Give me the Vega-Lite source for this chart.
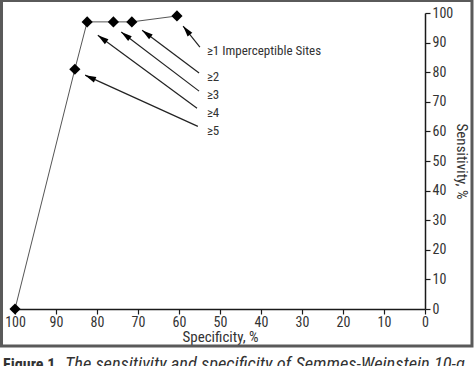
{
  "$schema": "https://vega.github.io/schema/vega-lite/v6.json",
  "width": 410,
  "height": 296,
  "autosize": "none",
  "padding": {"left": 15, "top": 13, "right": 49, "bottom": 57},
  "background": "white",
  "config": {
    "view": {"stroke": null},
    "font": "'Roboto Condensed', 'DejaVu Sans Condensed', 'Liberation Sans', sans-serif",
    "axis": {
      "grid": false,
      "tickCount": 11,
      "domainColor": "#1a1a1a",
      "domainWidth": 1.5,
      "tickColor": "#1a1a1a",
      "tickWidth": 1.2,
      "tickSize": 5,
      "labelColor": "#333333",
      "labelFontSize": 14,
      "labelFlush": false,
      "labelOverlap": false,
      "labelFont": "'Roboto Condensed', 'DejaVu Sans Condensed', 'Liberation Sans', sans-serif",
      "titleFont": "'Roboto Condensed', 'DejaVu Sans Condensed', 'Liberation Sans', sans-serif",
      "titleColor": "#333333",
      "titleFontSize": 15,
      "titleFontWeight": "normal"
    }
  },
  "datasets": {
    "roc": [
      {"specificity": 100, "sensitivity": 0},
      {"specificity": 85.4, "sensitivity": 81},
      {"specificity": 82.4, "sensitivity": 97},
      {"specificity": 76, "sensitivity": 97},
      {"specificity": 71.5, "sensitivity": 97},
      {"specificity": 60.5, "sensitivity": 99}
    ],
    "arrows": [
      {"label": "≥1 Imperceptible Sites", "tailX": 54.9, "tailY": 88.5, "headX": 59.0, "headY": 95.6, "labelX": 53.2, "labelY": 87.1},
      {"label": "≥2", "tailX": 55.1, "tailY": 79.7, "headX": 69.0, "headY": 94.2, "labelX": 53.2, "labelY": 78.3},
      {"label": "≥3", "tailX": 55.1, "tailY": 73.6, "headX": 74.1, "headY": 93.6, "labelX": 53.2, "labelY": 72.2},
      {"label": "≥4", "tailX": 55.6, "tailY": 67.8, "headX": 79.8, "headY": 92.5, "labelX": 53.2, "labelY": 66.1},
      {"label": "≥5", "tailX": 55.4, "tailY": 61.7, "headX": 82.9, "headY": 79.0, "labelX": 53.2, "labelY": 60.0}
    ],
    "one": [{}]
  },
  "layer": [
    {
      "data": {"name": "roc"},
      "mark": {"type": "line", "color": "#555555", "strokeWidth": 1, "clip": false},
      "encoding": {
        "x": {
          "field": "specificity", "type": "quantitative",
          "scale": {"domain": [0, 100], "reverse": true, "nice": false, "zero": false},
          "axis": {"orient": "bottom", "values": [0,10,20,30,40,50,60,70,80,90,100], "labelOverlap": false, "labelFlush": false, "title": "Specificity, %", "labelPadding": 1, "titlePadding": 0}
        },
        "y": {
          "field": "sensitivity", "type": "quantitative",
          "scale": {"domain": [0, 100], "nice": false, "zero": false},
          "axis": {"orient": "right", "values": [0,10,20,30,40,50,60,70,80,90,100], "labelOverlap": false, "labelFlush": false, "title": "Sensitivity, %", "labelPadding": 2, "titlePadding": 1}
        }
      }
    },
    {
      "data": {"name": "one"},
      "mark": {"type": "rect", "filled": false, "stroke": "#5a5a5a", "strokeWidth": 3, "clip": false},
      "encoding": {
        "x": {"datum": 103.29, "type": "quantitative"},
        "x2": {"datum": -11.46},
        "y": {"datum": 104.24, "type": "quantitative"},
        "y2": {"datum": -12.54}
      }
    },
    {
      "data": {"name": "roc"},
      "mark": {"type": "point", "shape": "diamond", "filled": true, "color": "black", "size": 125, "opacity": 1, "clip": false},
      "encoding": {
        "x": {"field": "specificity", "type": "quantitative"},
        "y": {"field": "sensitivity", "type": "quantitative"}
      }
    },
    {
      "data": {"name": "arrows"},
      "mark": {"type": "rule", "color": "#222222", "strokeWidth": 1.2},
      "encoding": {
        "x": {"field": "tailX", "type": "quantitative"},
        "y": {"field": "tailY", "type": "quantitative"},
        "x2": {"field": "headX"},
        "y2": {"field": "headY"}
      }
    },
    {
      "data": {"name": "arrows"},
      "transform": [
        {"calculate": "atan2((datum.tailX - datum.headX) * 4.1, (datum.headY - datum.tailY) * 2.96) * 180 / PI", "as": "ang"}
      ],
      "mark": {"type": "point", "shape": "M0,0L-0.6,2.2L0.6,2.2Z", "filled": true, "color": "black", "size": 100, "opacity": 1},
      "encoding": {
        "x": {"field": "headX", "type": "quantitative"},
        "y": {"field": "headY", "type": "quantitative"},
        "angle": {"field": "ang", "type": "quantitative", "scale": null}
      }
    },
    {
      "data": {"name": "arrows"},
      "mark": {"type": "text", "align": "left", "baseline": "middle", "fontSize": 13, "color": "#333333"},
      "encoding": {
        "x": {"field": "labelX", "type": "quantitative"},
        "y": {"field": "labelY", "type": "quantitative"},
        "text": {"field": "label"}
      }
    },
    {
      "data": {"name": "one"},
      "mark": {"type": "text", "align": "left", "baseline": "alphabetic", "fontSize": 16, "fontWeight": "bold", "color": "#333333", "clip": false},
      "encoding": {
        "x": {"datum": 102.9, "type": "quantitative"},
        "y": {"datum": -20.5, "type": "quantitative"},
        "text": {"value": "Figure 1."}
      }
    },
    {
      "data": {"name": "one"},
      "mark": {"type": "text", "align": "left", "baseline": "alphabetic", "fontSize": 18.4, "fontStyle": "italic", "color": "#333333", "clip": false},
      "encoding": {
        "x": {"datum": 87.8, "type": "quantitative"},
        "y": {"datum": -20.5, "type": "quantitative"},
        "text": {"value": "The sensitivity and specificity of Semmes-Weinstein 10-g"}
      }
    }
  ]
}
